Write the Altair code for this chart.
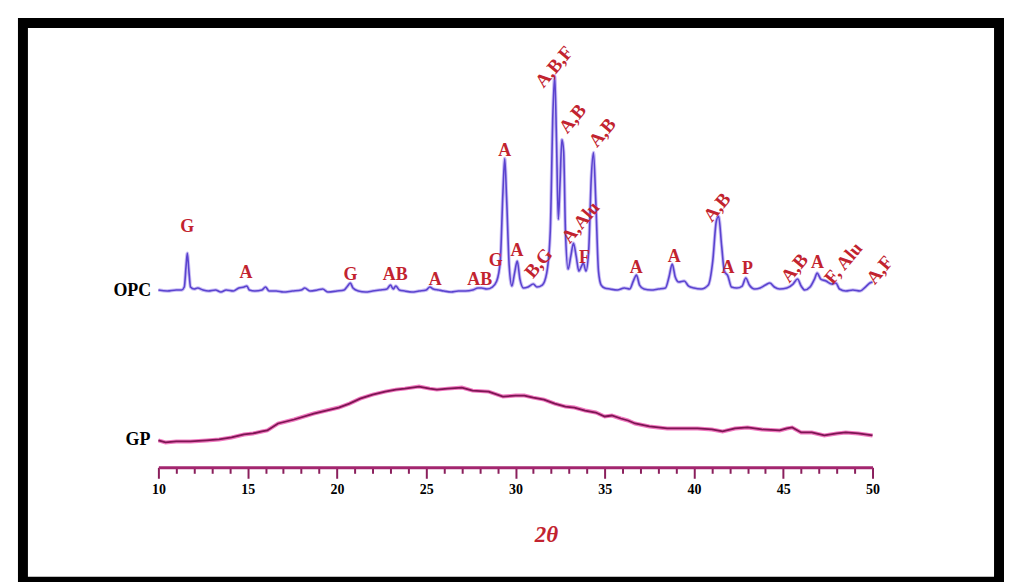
import altair as alt
import pandas as pd
import numpy as np

# ---------------- data ----------------
# OPC diffractogram: 2theta and intensity above its own baseline (a.u.)
opc_deg = [10.0, 10.5, 11.0, 11.3, 11.45, 11.55, 11.62, 11.7, 11.8, 12.0, 12.2, 12.5, 12.8, 13.2, 13.5,
           13.8, 14.2, 14.5, 14.8, 14.95, 15.1, 15.4, 15.8, 16.0, 16.2, 16.6, 17.0, 17.5, 18.0, 18.2,
           18.5, 18.9, 19.2, 19.5, 20.0, 20.4, 20.6, 20.75, 20.9, 21.2, 21.6, 22.0, 22.4, 22.8, 23.0,
           23.15, 23.3, 23.5, 23.8, 24.2, 24.6, 25.0, 25.2, 25.4, 25.7, 26.0, 26.4, 26.8, 27.2, 27.6,
           27.9, 28.1, 28.4, 28.7, 28.95, 29.15, 29.3, 29.4, 29.5, 29.65, 29.8, 29.95, 30.1, 30.25,
           30.45, 30.7, 31.0, 31.2, 31.5, 31.75, 31.95, 32.1, 32.2, 32.3, 32.4, 32.5, 32.6, 32.7, 32.8,
           32.95, 33.1, 33.25, 33.4, 33.55, 33.7, 33.8, 33.95, 34.1, 34.25, 34.37, 34.5, 34.65, 34.8,
           35.0, 35.3, 35.7, 36.1, 36.4, 36.6, 36.78, 36.95, 37.2, 37.6, 38.0, 38.4, 38.6, 38.78, 38.95,
           39.15, 39.45, 39.7, 40.0, 40.4, 40.8, 41.05, 41.25, 41.38, 41.55, 41.7, 41.9, 42.1, 42.4,
           42.7, 42.9, 43.1, 43.4, 43.7, 44.0, 44.25, 44.5, 44.8, 45.2, 45.55, 45.8, 46.0, 46.2, 46.5,
           46.75, 46.9, 47.1, 47.4, 47.7, 47.95, 48.15, 48.5, 48.9, 49.3, 49.6, 49.85, 50.0]
opc_int = [1, 0, 1, 1, 4, 25, 38, 22, 4, 2, 3, 1, 0, 1, -1,
           1, 0, 3, 4, 5, 1, 0, 1, 4, 0, 0, -1, 0, 1, 3,
           0, 1, 2, -1, 0, 1, 5, 8, 3, 0, -1, 0, 1, 2, 6,
           2, 5, 1, 0, -1, 0, 1, 4, 2, 1, 0, -1, 0, 0, 1,
           3, 3, 2, 4, 10, 30, 100, 133, 95, 25, 5, 18, 30, 12,
           3, 4, 7, 4, 6, 18, 60, 180, 216, 150, 72, 110, 152, 140, 60,
           22, 35, 48, 35, 20, 25, 28, 20, 40, 115, 139, 90, 20, 6,
           3, 2, 1, 3, 2, 10, 16, 6, 2, 1, 2, 3, 14, 27, 14,
           9, 10, 5, 3, 2, 6, 30, 70, 75, 45, 20, 15, 4, 3,
           5, 13, 6, 2, 3, 6, 8, 4, 2, 3, 7, 12, 5, 1, 4,
           12, 18, 12, 10, 7, 8, 2, 0, 1, 0, 4, 8, 9]
OPC_OFFSET = 177

# GP diffractogram (broad amorphous hump), intensity on the common scale
gp_deg = [10.0, 10.4, 11.0, 11.8, 12.7, 13.4, 14.1, 14.8, 15.3, 15.8, 16.1, 16.7, 17.6, 18.7, 19.4,
          20.1, 20.7, 21.3, 22.0, 22.7, 23.3, 23.8, 24.6, 25.2, 25.6, 26.2, 27.0, 27.6, 28.5, 29.3,
          30.0, 30.5, 31.0, 31.6, 32.2, 32.8, 33.3, 33.9, 34.5, 35.0, 35.4, 35.9, 36.3, 36.7, 37.5,
          38.5, 39.3, 40.2, 41.0, 41.6, 42.3, 43.0, 43.8, 44.8, 45.2, 45.5, 46.0, 46.6, 47.3, 48.0,
          48.5, 49.2, 50.0]
gp_int = [27, 25, 26, 26, 27, 28, 30, 33, 34, 36, 37, 44, 48, 54, 57,
          60, 64, 69, 73, 76, 78, 79, 81, 79, 78, 79, 80, 77, 76, 71,
          72, 72, 70, 68, 64, 61, 60, 57, 55, 51, 52, 49, 47, 44, 41,
          39, 39, 39, 38, 36, 39, 40, 38, 37, 39, 40, 35, 35, 32, 34,
          35, 34, 32]

# phase labels (upright)
lab_text = ["G", "A", "G", "AB", "A", "AB", "G", "A", "A", "F", "A", "A", "A", "P", "A"]
lab_deg = [11.62, 14.9, 20.76, 23.27, 25.5, 28.0, 28.9, 29.4, 30.08, 33.87, 36.77, 38.89, 41.9, 43.0, 46.92]
lab_val = [241, 195, 193, 193, 188, 188, 207, 318, 217, 210, 200, 211, 200, 199, 205]

# phase labels (slanted)
rlab_text = ["B,G", "A,B,F", "A,B", "A,Alu", "A,B", "A,B", "A,B", "F, Alu", "A,F"]
rlab_deg = [31.3, 32.17, 33.2, 33.65, 34.87, 41.29, 45.64, 48.37, 50.4]
rlab_val = [205, 402, 350, 246, 336, 261, 200, 205, 198]

# series names
series_name = ["OPC", "GP"]
series_deg = [9.6, 9.55]
series_val = [177, 27]

tick_values = list(range(10, 51))

# ---------------- chart ----------------
RED = "#c2232f"
SERIF = "Liberation Serif"

opc = pd.DataFrame({"deg": opc_deg, "val": np.array(opc_int) + OPC_OFFSET})
gp = pd.DataFrame({"deg": gp_deg, "val": gp_int})
labs = pd.DataFrame({"deg": lab_deg, "val": lab_val, "text": lab_text})
rlabs = pd.DataFrame({"deg": rlab_deg, "val": rlab_val, "text": rlab_text})
names = pd.DataFrame({"deg": series_deg, "val": series_val, "text": series_name})

x_enc = alt.X(
    "deg:Q",
    scale=alt.Scale(domain=[10, 50], nice=False, zero=False),
    axis=alt.Axis(
        values=tick_values,
        labelExpr="datum.value % 5 === 0 ? datum.label : ''",
        tickSize=alt.condition("datum.value % 5 === 0", alt.value(11), alt.value(6)),
        tickColor="#8a1f5c",
        tickWidth=2,
        domainColor="#a3266f",
        domainWidth=3,
        grid=False,
        labelFlush=False,
        labelFont=SERIF,
        labelFontWeight="bold",
        labelFontSize=14,
        labelColor="black",
        labelPadding=4,
        title="2θ",
        titleFont=SERIF,
        titleFontStyle="italic",
        titleFontWeight="bold",
        titleFontSize=23,
        titleColor=RED,
        titleX=389,
        titleY=67,
        titleAlign="center",
        titleBaseline="middle",
    ),
)
y_enc = alt.Y("val:Q", scale=alt.Scale(domain=[0, 438], nice=False, zero=False), axis=None)

frame = alt.Chart(pd.DataFrame({"k": [0]})).mark_rect(
    filled=False, stroke="black", strokeWidth=10
).encode(x=alt.value(-136), x2=alt.value(844), y=alt.value(-8), y2=alt.value(553))

opc_halo = alt.Chart(opc).mark_line(color="#c9bdf5", strokeWidth=3.5, interpolate="monotone").encode(x=x_enc, y=y_enc)
opc_line = alt.Chart(opc).mark_line(color="#5a43cf", strokeWidth=1.6, interpolate="monotone").encode(x=x_enc, y=y_enc)
gp_halo = alt.Chart(gp).mark_line(color="#f07ac0", strokeWidth=4.0, interpolate="linear").encode(x=x_enc, y=y_enc)
gp_line = alt.Chart(gp).mark_line(color="#7d1553", strokeWidth=1.8, interpolate="linear").encode(x=x_enc, y=y_enc)

up_labels = alt.Chart(labs).mark_text(
    font=SERIF, fontWeight="bold", fontSize=18, color=RED, baseline="middle", align="center"
).encode(x=x_enc, y=y_enc, text="text:N")

slant_labels = alt.Chart(rlabs).mark_text(
    font=SERIF, fontWeight="bold", fontSize=19, color=RED, baseline="middle", align="center", angle=310
).encode(x=x_enc, y=y_enc, text="text:N")

name_labels = alt.Chart(names).mark_text(
    font=SERIF, fontWeight="bold", fontSize=18, color="black", baseline="middle", align="right"
).encode(x=x_enc, y=y_enc, text="text:N")

chart = alt.layer(
    frame, gp_halo, gp_line, opc_halo, opc_line, up_labels, slant_labels, name_labels
).properties(
    width=717,
    height=438,
    autosize=alt.AutoSizeParams(type="none"),
    padding={"left": 151, "top": 22, "right": 132, "bottom": 114},
    background="white",
).configure_view(stroke=None)

chart.save("out.html", embed_options={"renderer": "svg", "actions": False})
